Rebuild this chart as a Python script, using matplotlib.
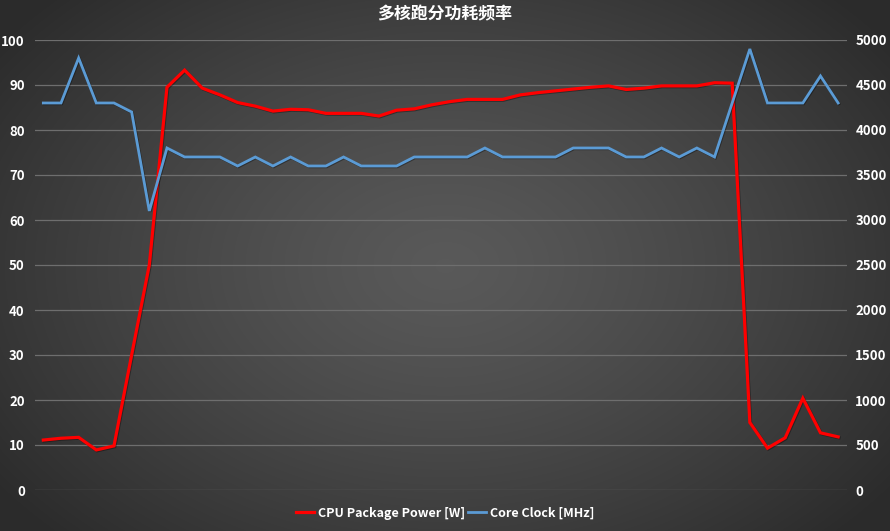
import numpy as np
import matplotlib
matplotlib.use("Agg")
import matplotlib.pyplot as plt
import matplotlib.patheffects as pe
from matplotlib.lines import Line2D

plt.rcParams['font.family'] = ['Noto Sans CJK SC', 'DejaVu Sans']

# ---- data ----
power_w = [11.1, 11.5, 11.7, 8.9, 9.8, 30.0, 50.0, 89.5, 93.3, 89.3,
           87.8, 86.1, 85.3, 84.2, 84.6, 84.5, 83.7, 83.7, 83.7, 83.1,
           84.4, 84.7, 85.6, 86.3, 86.8, 86.8, 86.8, 87.8, 88.3, 88.7,
           89.1, 89.5, 89.8, 89.0, 89.3, 89.8, 89.8, 89.8, 90.5, 90.4,
           15.0, 9.3, 11.6, 20.4, 12.7, 11.8]
clock_mhz = [4300, 4300, 4800, 4300, 4300, 4200, 3100, 3800, 3700, 3700,
             3700, 3600, 3700, 3600, 3700, 3600, 3600, 3700, 3600, 3600,
             3600, 3700, 3700, 3700, 3700, 3800, 3700, 3700, 3700, 3700,
             3800, 3800, 3800, 3700, 3700, 3800, 3700, 3800, 3700, 4300,
             4900, 4300, 4300, 4300, 4600, 4300]
left_ticks = list(range(0, 101, 10))
right_ticks = list(range(0, 5001, 500))
title = "多核跑分功耗频率"
labels = ["CPU Package Power [W]", "Core Clock [MHz]"]

RED = "#ff0000"
BLUE = "#5b9bd5"
W, H = 890, 531

fig = plt.figure(figsize=(W / 100, H / 100), dpi=100)

# radial gradient background
bg = fig.add_axes([0, 0, 1, 1], zorder=0)
yy, xx = np.mgrid[0:H, 0:W]
r = np.sqrt(((xx - W / 2) / (W * 0.62)) ** 2 + ((yy - H / 2) / (H * 0.72)) ** 2)
r = np.clip(r, 0, 1)
shade = 0.35 - 0.18 * r ** 1.3
bg.imshow(np.dstack([shade] * 3), aspect="auto", extent=[0, 1, 0, 1])
bg.axis("off")

x = np.arange(len(power_w))
ax = fig.add_axes([34.5 / W, 1 - 490 / H, (847 - 34.5) / W, 450 / H], zorder=1)
ax.patch.set_alpha(0)
ax2 = ax.twinx()
ax2.patch.set_alpha(0)

shadow = [pe.SimpleLineShadow(offset=(0.6, -0.6), shadow_color="#000000", alpha=0.35), pe.Normal()]
ax.plot(x, power_w, color=RED, lw=2.3, solid_joinstyle="miter", path_effects=shadow, zorder=3)
ax2.plot(x, clock_mhz, color=BLUE, lw=2.0, solid_joinstyle="miter", path_effects=shadow, zorder=3)

ax.set_xlim(-0.5, len(x) - 0.5)
ax.set_ylim(0, 100)
ax2.set_ylim(0, 5000)
ax.set_yticks(left_ticks)
ax2.set_yticks(right_ticks)
ax.set_xticks([])
ax.grid(axis="y", color="#6e6e6e", lw=0.9)
ax.set_axisbelow(True)

for a in (ax, ax2):
    for s in a.spines.values():
        s.set_visible(False)
    a.tick_params(length=0, labelsize=9.5, labelcolor="white")
    for t in a.get_yticklabels():
        t.set_fontweight("bold")
ax.tick_params(axis="y", pad=7)
ax2.tick_params(axis="y", pad=6)

fig.text(0.5, 1 - 14 / H, title, ha="center", va="center", color="white",
         fontsize=12.2, fontweight="bold")

handles = [Line2D([], [], color=RED, lw=2.3), Line2D([], [], color=BLUE, lw=2.0)]
leg = fig.legend(handles, labels, loc="center", bbox_to_anchor=(0.5, 1 - 513 / H),
                 ncol=2, frameon=False, handlelength=1.5, handletextpad=0.3,
                 columnspacing=0.2, prop={"size": 9, "weight": "bold"})
for t in leg.get_texts():
    t.set_color("white")

fig.savefig("out.png", dpi=100)
